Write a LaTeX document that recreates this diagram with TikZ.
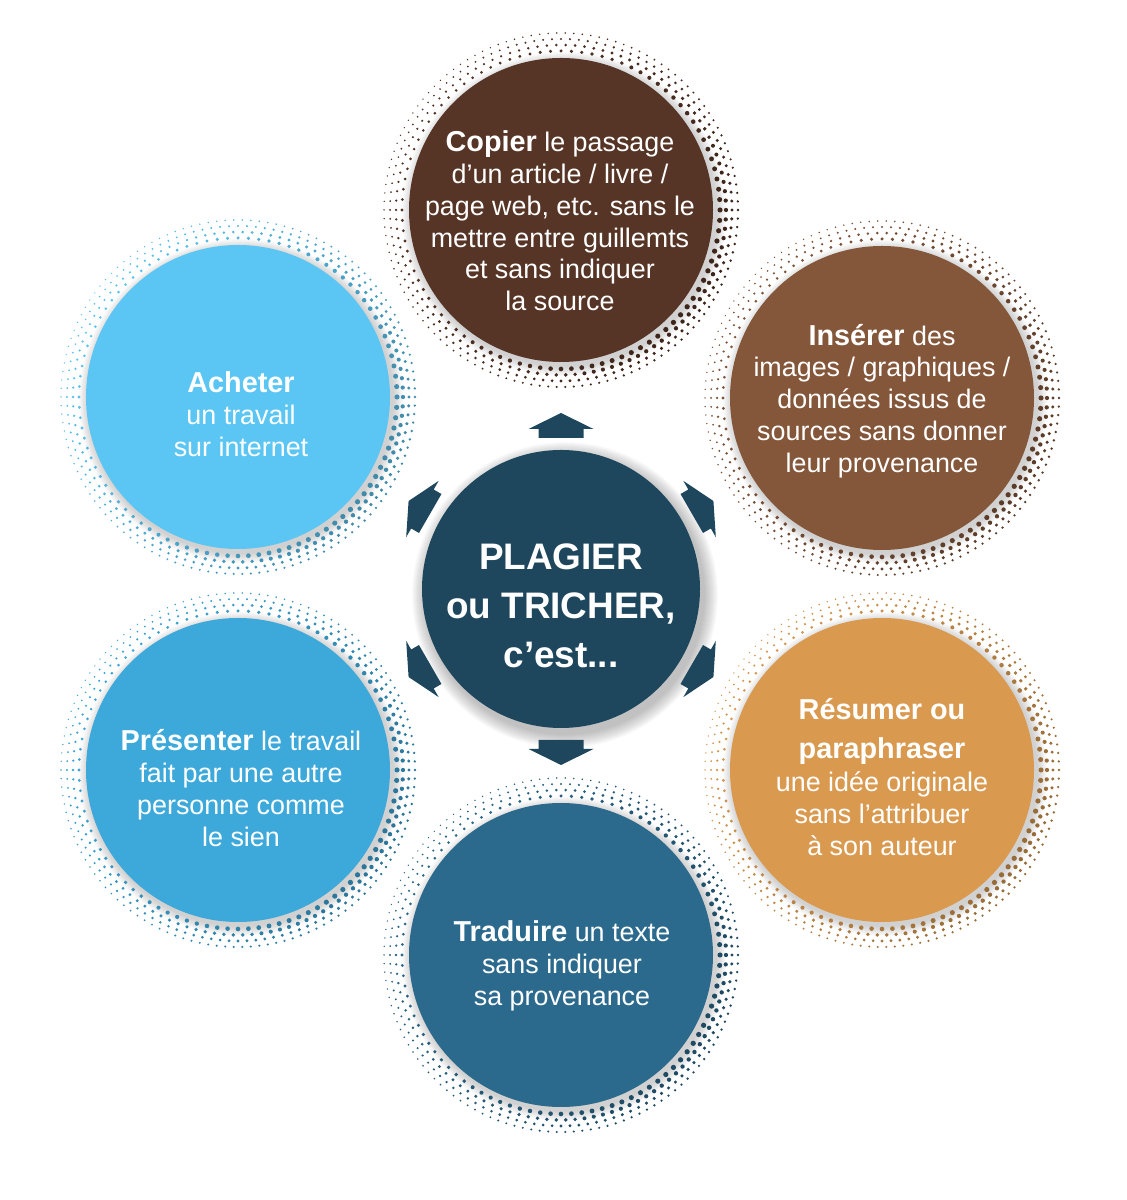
\documentclass[tikz,border=0pt]{standalone}
\usepackage{fontspec}
\setmainfont{Liberation Sans}
\usetikzlibrary{calc}

\definecolor{plagier}{HTML}{1E475E}
\definecolor{copier}{HTML}{573526}
\definecolor{inserer}{HTML}{84563A}
\definecolor{resumer}{HTML}{D99A50}
\definecolor{traduire}{HTML}{2B6A8D}
\definecolor{presenter}{HTML}{3DA9DB}
\definecolor{acheter}{HTML}{5BC6F3}

\tikzset{
    bubbletext/.style={text=white, align=center, inner sep=0pt, font=\fontsize{15.3}{18.1}\selectfont},
    centertext/.style={text=white, align=center, inner sep=0pt, font=\bfseries\fontsize{21}{27.8}\selectfont},
    softshadow/.style={fill=black, opacity=0.02},
}
\newcommand\bigword[1]{{\fontsize{16.4}{18.1}\selectfont\bfseries #1}}

\begin{document}
\begin{tikzpicture}[x=0.02cm,y=0.02cm]
\useasboundingbox (0,0) rectangle (1126,1200);

\pgfmathsetmacro\fillradius{152}
\pgfmathsetmacro\centerradius{139}

\foreach \cname/\cx/\cy in {copier/561/990, inserer/882/802, resumer/882/430, traduire/561/245, presenter/238/430, acheter/238/803} {
    \coordinate (\cname) at (\cx,\cy);
    \foreach \k in {1, ..., 10}
        \fill[softshadow] (\cname) ++(3,-4) circle (\fillradius+\k);
    \foreach \ringradius/\dotcount/\dotsize in {159/96/2.4, 165/110/2.0, 171/120/1.6, 177/130/1.2} {
        \pgfmathsetmacro\stepangle{360/\dotcount}
        \foreach \stepx in {1, ..., \dotcount} {
            \pgfmathsetmacro\myangle{\stepx*\stepangle}
            \pgfmathsetmacro\myradius{\dotsize*(0.85+0.25*cos(\myangle+30))}
            \pgfmathtruncatemacro\mymix{100-30*(1+cos(\myangle+30))/2}
            \fill[\cname!\mymix!black] (\cname) ++(\myangle:\ringradius) circle (\myradius);
        }
    }
    \fill[\cname] (\cname) circle (\fillradius);
}

\coordinate (plagier) at (561,611);
\foreach \k in {1, ..., 14}
    \fill[softshadow] (plagier) ++(4,-6) circle (\centerradius+\k);
\foreach \stepangle in {90, 30, -30, -90, -150, 150}
    \fill[plagier, shift={(plagier)}, rotate=\stepangle] (151,-22.5) -- (160,-22.5) -- (160,-32.5) -- (176,0) -- (160,32.5) -- (160,22.5) -- (151,22.5) -- cycle;
\fill[plagier] (plagier) circle (\centerradius);

\node[centertext] (plagiertext) at (561,594) {PLAGIER\\ou TRICHER,\\c'est...};
\node[bubbletext] (copiertext) at (560,979) {\bigword{Copier} le passage\\d'un article / livre /\\page web, etc. sans le\\mettre entre guillemts\\et sans indiquer\\la source};
\node[bubbletext] (inserertext) at (882,799) {\bigword{Insérer} des\\images / graphiques /\\données issus de\\sources sans donner\\leur provenance};
\node[bubbletext] (resumertext) at (882,423) {\bigword{Résumer ou}\\[4pt]\bigword{paraphraser}\\[1pt]une idée originale\\sans l'attribuer\\à son auteur};
\node[bubbletext] (traduiretext) at (562,234) {\bigword{Traduire} un texte\\sans indiquer\\sa provenance};
\node[bubbletext] (presentertext) at (241,412) {\bigword{Présenter} le travail\\fait par une autre\\personne comme\\le sien};
\node[bubbletext] (achetertext) at (241,786) {\bigword{Acheter}\\un travail\\sur internet};

\end{tikzpicture}
\end{document}
